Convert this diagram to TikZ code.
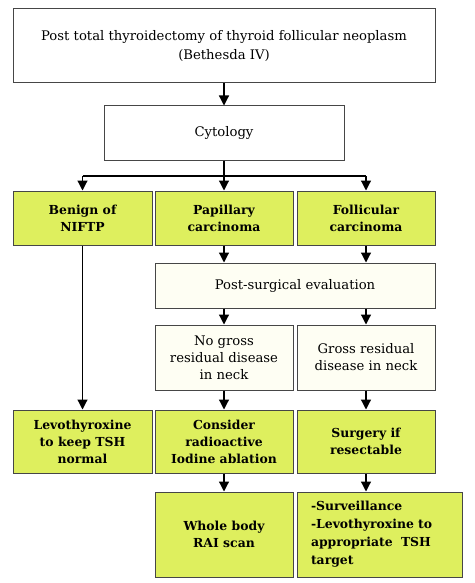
\documentclass[tikz,border=0pt]{standalone}
\usepackage{fontspec}
\setmainfont{DejaVu Serif}
\usetikzlibrary{arrows.meta}
\definecolor{boxgreen}{RGB}{222,239,94}
\definecolor{boxcream}{RGB}{254,254,243}
\definecolor{edge}{RGB}{70,70,70}
\begin{document}
\begin{tikzpicture}[x=1pt,y=-1pt,
  base/.style={draw=edge,line width=1pt,inner sep=0pt,align=center,font=\fontsize{13.2}{17}\selectfont},
  whitebox/.style={base,fill=white},
  creambox/.style={base,fill=boxcream},
  greenbox/.style={base,fill=boxgreen,font=\fontsize{12.4}{17}\selectfont\bfseries},
  arr/.style={-{Triangle[length=10pt,width=10pt]},line width=1.2pt,black},
  ln/.style={line width=1.2pt,black}]
\useasboundingbox (0,0) rectangle (474,583);
\def\bx#1#2#3#4#5#6#7{\node[#2,minimum width=#5-#3,minimum height=#6-#4] (#1) at ({(#3+#5)/2},{(#4+#6)/2}) {#7};}
\bx{top}{whitebox,font=\fontsize{13.2}{19}\selectfont}{13}{9}{435}{83}{Post total thyroidectomy of thyroid follicular neoplasm\\(Bethesda IV)}
\bx{cyt}{whitebox}{104}{106}{344}{160}{Cytology}
\bx{ben}{greenbox}{13}{191}{152}{245}{Benign of\\NIFTP}
\bx{pap}{greenbox}{155}{191}{293}{245}{Papillary\\carcinoma}
\bx{fol}{greenbox}{297}{191}{435}{245}{Follicular\\carcinoma}
\bx{pse}{creambox}{155}{263}{435}{308}{Post-surgical evaluation}
\bx{nog}{creambox}{155}{325}{293}{390}{No gross\\residual disease\\in neck}
\bx{gro}{creambox}{297}{325}{435}{390}{Gross residual\\disease in neck}
\bx{lev}{greenbox}{13}{410}{152}{473}{Levothyroxine\\to keep TSH\\normal}
\bx{con}{greenbox}{155}{410}{293}{473}{Consider\\radioactive\\Iodine ablation}
\bx{sur}{greenbox}{297}{410}{435}{473}{Surgery if\\resectable}
\bx{who}{greenbox}{155}{492}{293}{577}{Whole body\\RAI scan}
\node[greenbox,minimum width=165,minimum height=85,align=left,text width=137,font=\fontsize{12.4}{18}\selectfont\bfseries] (sv) at (379.5,534.5) {-Surveillance\\-Levothyroxine to\\appropriate~ TSH\\target};
\coordinate (j) at (224,176);
\draw[arr] (top.south -| 224,0) -- (cyt.north -| 224,0);
\draw[ln] (cyt.south -| 224,0) -- (j);
\draw[ln] (ben.north |- j) -- (fol.north |- j);
\draw[arr] (j) -- (pap.north);
\draw[arr] (ben.north |- j) -- (ben.north);
\draw[arr] (fol.north |- j) -- (fol.north);
\draw[arr] (pap.south) -- (pap.south |- pse.north);
\draw[arr] (fol.south) -- (fol.south |- pse.north);
\draw[arr] (pap.south |- pse.south) -- (nog.north);
\draw[arr] (fol.south |- pse.south) -- (gro.north);
\draw[arr] (ben.south) -- (lev.north);
\draw[arr] (nog.south) -- (con.north);
\draw[arr] (gro.south) -- (sur.north);
\draw[arr] (con.south) -- (who.north);
\draw[arr] (sur.south) -- (sur.south |- sv.north);
\end{tikzpicture}
\end{document}
